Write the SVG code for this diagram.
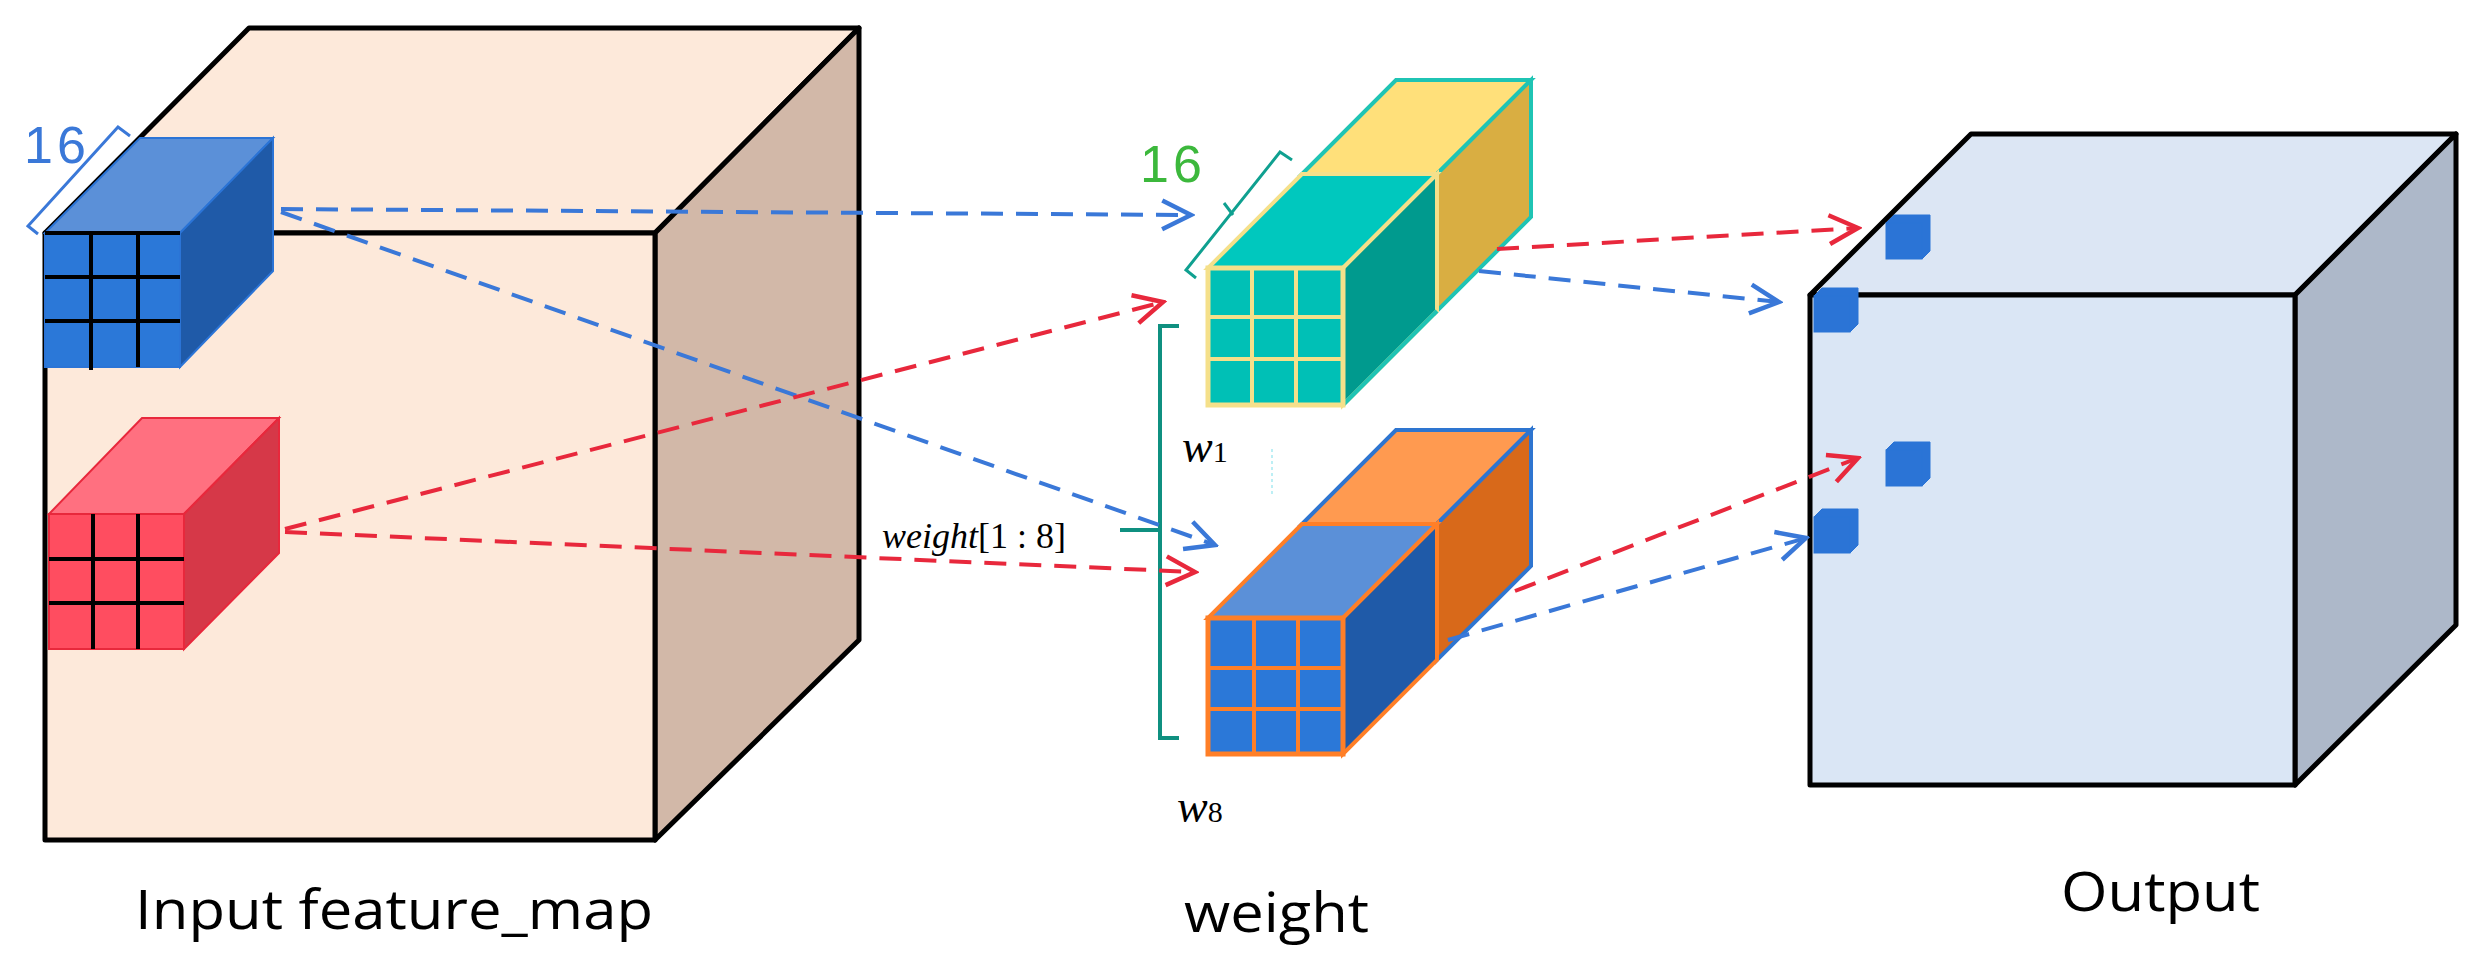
<svg xmlns="http://www.w3.org/2000/svg" width="2483" height="965" viewBox="0 0 2483 965">
<style>
.edge{stroke:#000;stroke-width:5;stroke-linejoin:round}
.grid{stroke:#000;stroke-width:4}
.bd{fill:none;stroke-width:4;stroke-dasharray:22 13}
.b{stroke:#3A78D8}.r{stroke:#E8283C}
.lbl{font-family:"Open Sans","Liberation Sans",sans-serif;font-size:54px;fill:#000}
.ital{font-family:"Liberation Serif",serif;font-style:italic;fill:#000}
.ser{font-family:"Liberation Serif",serif;fill:#000}
.sc{fill:#2B74D6;stroke:#2B74D6;stroke-width:1}
</style>
<defs>
<marker id="ab" viewBox="0 0 20 20" refX="18" refY="10" markerWidth="9" markerHeight="9" markerUnits="strokeWidth" orient="auto"><polyline points="2,2 18,10 2,18" fill="none" stroke="#3A78D8" stroke-width="2.5"/></marker>
<marker id="ar" viewBox="0 0 20 20" refX="18" refY="10" markerWidth="9" markerHeight="9" markerUnits="strokeWidth" orient="auto"><polyline points="2,2 18,10 2,18" fill="none" stroke="#E8283C" stroke-width="2.5"/></marker>
</defs>

<g id="input-cube">
<polygon class="edge" points="45,233 249,28 859,28 655,233" fill="#FDE9DA"/>
<polygon class="edge" points="655,233 859,28 859,640 655,840" fill="#D2B8A8"/>
<rect class="edge" x="45" y="233" width="610" height="607" fill="#FDE9DA"/>
</g>

<g id="blue-patch">
<polygon points="45,233 140,138 273,138 180,233" fill="#5B90D8" stroke="#2B74D6" stroke-width="2"/>
<polygon points="180,233 273,138 273,271 180,367" fill="#1F5AA8" stroke="#2B74D6" stroke-width="2"/>
<rect x="45" y="233" width="135" height="134" fill="#2B78D8" stroke="#2B74D6" stroke-width="2"/>
<line class="grid" x1="45" y1="233" x2="180" y2="233"/>
<line class="grid" x1="91" y1="233" x2="91" y2="370"/>
<line class="grid" x1="138" y1="233" x2="138" y2="367"/>
<line class="grid" x1="45" y1="277" x2="180" y2="277"/>
<line class="grid" x1="45" y1="321" x2="180" y2="321"/>
<polyline points="38,234 28,226 118,127 130,136" fill="none" stroke="#3A78D8" stroke-width="3"/>
<text x="24" y="163" font-family="Liberation Sans Narrow,Liberation Sans,sans-serif" font-size="52" fill="#3A78D8" textLength="62">16</text>
</g>

<g id="red-patch">
<polygon points="49,514 142,418 279,418 184,514" fill="#FF7080" stroke="#E8283C" stroke-width="2"/>
<polygon points="184,514 279,418 279,553 184,649" fill="#D63848" stroke="#E8283C" stroke-width="2"/>
<rect x="49" y="514" width="135" height="135" fill="#FF4D60" stroke="#E8283C" stroke-width="2"/>
<line class="grid" x1="93" y1="514" x2="93" y2="649"/>
<line class="grid" x1="138" y1="514" x2="138" y2="649"/>
<line class="grid" x1="49" y1="559" x2="184" y2="559"/>
<line class="grid" x1="49" y1="603" x2="184" y2="603"/>
</g>

<g id="weight-w1">
<polygon points="1302,174 1437,174 1531,80 1396,80" fill="#FFE07A" stroke="#1FC4B4" stroke-width="4"/>
<polygon points="1437,174 1531,80 1531,217 1437,311" fill="#D9AE42" stroke="#1FC4B4" stroke-width="4"/>
<polygon points="1208,268 1343,268 1437,174 1302,174" fill="#00C8BE" stroke="#F5E08A" stroke-width="4"/>
<polygon points="1343,268 1437,174 1437,311 1343,405" fill="#009A8E" stroke="#F5E08A" stroke-width="4"/>
<line x1="1343" y1="405" x2="1437" y2="311" stroke="#1FC4B4" stroke-width="4"/>
<rect x="1208" y="268" width="135" height="137" fill="#00C0B6" stroke="#F5E08A" stroke-width="5"/>
<g stroke="#F5E08A" stroke-width="4"><line x1="1252" y1="268" x2="1252" y2="405"/><line x1="1296" y1="268" x2="1296" y2="405"/><line x1="1208" y1="317" x2="1343" y2="317"/><line x1="1208" y1="359" x2="1343" y2="359"/></g>
<polyline points="1196,278 1186,270 1280,152 1292,160" fill="none" stroke="#0FA090" stroke-width="3"/>
<line x1="1233" y1="215" x2="1224" y2="203" stroke="#0FA090" stroke-width="3"/>
<text x="1140" y="182" font-family="Liberation Sans Narrow,Liberation Sans,sans-serif" font-size="52" fill="#3CB83C" textLength="62">16</text>
<text class="ital" x="1182" y="462" font-size="46">w<tspan class="ser" font-style="normal" font-size="30">1</tspan></text>
<line x1="1272" y1="449" x2="1272" y2="494" stroke="#BDEFF5" stroke-width="2" stroke-dasharray="3 3"/>
</g>

<g id="weight-w8">
<polygon points="1302,524 1437,524 1531,430 1396,430" fill="#FF9A50" stroke="#2E75D0" stroke-width="4"/>
<polygon points="1437,524 1531,430 1531,566 1437,660" fill="#D8691A" stroke="#2E75D0" stroke-width="4"/>
<polygon points="1208,618 1343,618 1437,524 1302,524" fill="#5B90D8" stroke="#FF7F27" stroke-width="4"/>
<polygon points="1343,618 1437,524 1437,660 1343,754" fill="#1F5AA8" stroke="#FF7F27" stroke-width="4"/>
<rect x="1208" y="618" width="135" height="136" fill="#2B78D8" stroke="#FF7F27" stroke-width="5"/>
<g stroke="#FF7F27" stroke-width="4"><line x1="1254" y1="618" x2="1254" y2="754"/><line x1="1298" y1="618" x2="1298" y2="754"/><line x1="1208" y1="668" x2="1343" y2="668"/><line x1="1208" y1="709" x2="1343" y2="709"/></g>
<text class="ital" x="1177" y="822" font-size="46">w<tspan class="ser" font-style="normal" font-size="30">8</tspan></text>
</g>

<g id="weight-bracket">
<polyline points="1179,326 1160,326 1160,738 1179,738" fill="none" stroke="#0F9080" stroke-width="4"/>
<line x1="1120" y1="530" x2="1160" y2="530" stroke="#0F9080" stroke-width="4"/>
<text x="882" y="548" font-size="36"><tspan class="ital">weight</tspan><tspan class="ser">[1 : 8]</tspan></text>
</g>

<g id="output-cube">
<polygon class="edge" points="1810,295 1971,134 2456,134 2295,295" fill="#DCE6F4"/>
<polygon class="edge" points="2295,295 2456,134 2456,625 2295,785" fill="#ADB8C9"/>
<rect class="edge" x="1810" y="295" width="485" height="490" fill="#DAE6F5"/>
</g>

<g id="output-points">
<g transform="translate(1886,215)"><polygon class="sc" points="0,8 8,0 44,0 36,8" fill="#5B90D8"/><polygon class="sc" points="36,8 44,0 44,36 36,44" fill="#1F5AA8"/><rect class="sc" x="0" y="8" width="36" height="36"/></g>
<g transform="translate(1814,288)"><polygon class="sc" points="0,8 8,0 44,0 36,8" fill="#5B90D8"/><polygon class="sc" points="36,8 44,0 44,36 36,44" fill="#1F5AA8"/><rect class="sc" x="0" y="8" width="36" height="36"/></g>
<g transform="translate(1886,442)"><polygon class="sc" points="0,8 8,0 44,0 36,8" fill="#5B90D8"/><polygon class="sc" points="36,8 44,0 44,36 36,44" fill="#1F5AA8"/><rect class="sc" x="0" y="8" width="36" height="36"/></g>
<g transform="translate(1814,509)"><polygon class="sc" points="0,8 8,0 44,0 36,8" fill="#5B90D8"/><polygon class="sc" points="36,8 44,0 44,36 36,44" fill="#1F5AA8"/><rect class="sc" x="0" y="8" width="36" height="36"/></g>
</g>

<g id="connectors">
<line class="bd b" x1="281" y1="209" x2="1191" y2="215" marker-end="url(#ab)"/>
<line class="bd b" x1="281" y1="212" x2="1215" y2="545" marker-end="url(#ab)"/>
<line class="bd r" x1="285" y1="529" x2="1163" y2="302" marker-end="url(#ar)"/>
<line class="bd r" x1="285" y1="532" x2="1195" y2="572" marker-end="url(#ar)"/>
<line class="bd r" x1="1497" y1="249" x2="1858" y2="228" marker-end="url(#ar)"/>
<line class="bd b" x1="1479" y1="271" x2="1779" y2="302" marker-end="url(#ab)"/>
<line class="bd r" x1="1515" y1="591" x2="1858" y2="458" marker-end="url(#ar)"/>
<line class="bd b" x1="1448" y1="640" x2="1806" y2="538" marker-end="url(#ab)"/>
</g>

<g id="labels">
<text class="lbl" x="135" y="929" textLength="518" lengthAdjust="spacingAndGlyphs">Input feature_map</text>
<text class="lbl" x="1184" y="932" textLength="185" lengthAdjust="spacingAndGlyphs">weight</text>
<text class="lbl" x="2061" y="911" textLength="199" lengthAdjust="spacingAndGlyphs">Output</text>
</g>
</svg>
